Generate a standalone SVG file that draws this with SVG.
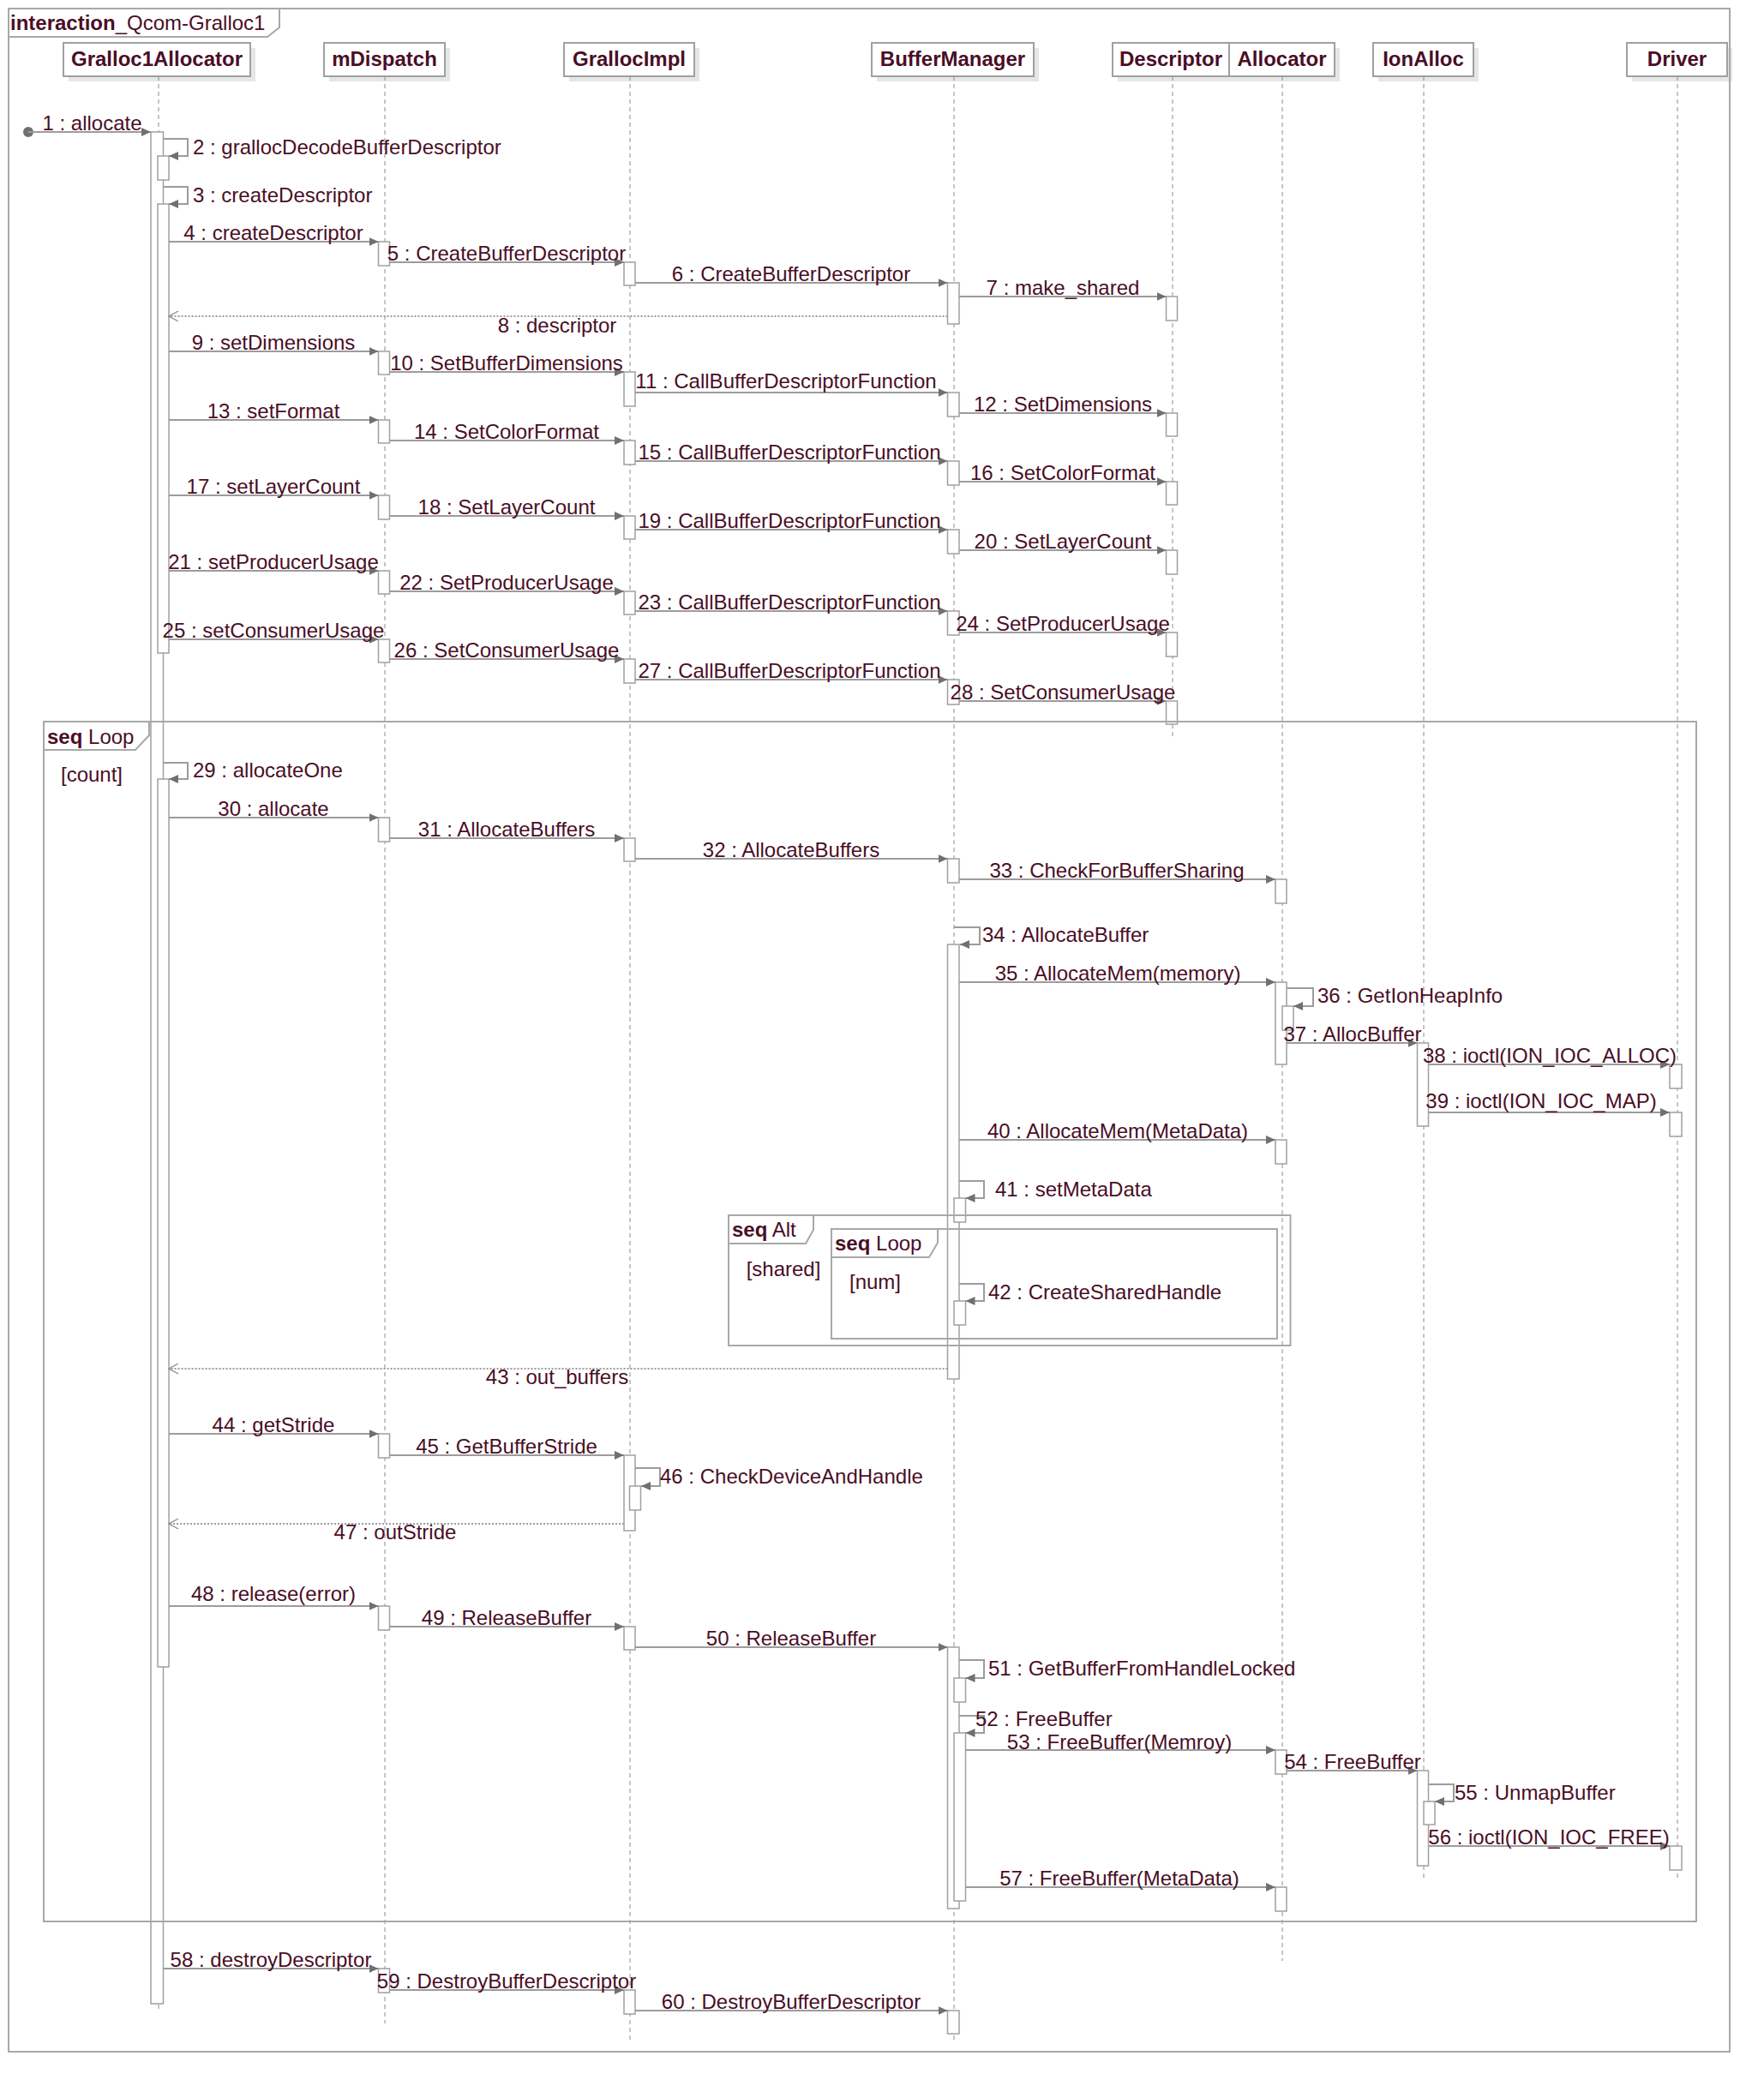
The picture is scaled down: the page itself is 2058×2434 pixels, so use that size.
<svg xmlns="http://www.w3.org/2000/svg" width="2058" height="2434" viewBox="0 0 2058 2434">
<defs>
<style>
.bg{fill:#ffffff}
.box{fill:#ffffff;stroke:#a0a0a0;stroke-width:2}
.shadow{fill:#e6e6e6}
.name{font-family:"Liberation Sans",Arial,sans-serif;font-size:24px;font-weight:bold;fill:#4a0e26;text-anchor:middle}
.life{stroke:#8c8c8c;stroke-width:1;stroke-dasharray:5 4;fill:none}
.act{fill:#ffffff;stroke:#a0a0a0;stroke-width:1.5}
.msg{stroke:#9c9c9c;stroke-width:2;fill:none;marker-end:url(#arr)}
.ret{stroke:#9c9c9c;stroke-width:2;stroke-dasharray:2 2;fill:none;marker-end:url(#open)}
.lbl{font-family:"Liberation Sans",Arial,sans-serif;font-size:24px;fill:#4a0e26}
.c{text-anchor:middle}
.b{font-weight:bold}
.frame{fill:none;stroke:#a8a8a8;stroke-width:2}
.tab{fill:#ffffff;stroke:#a8a8a8;stroke-width:2}
</style>
<marker id="arr" markerUnits="userSpaceOnUse" markerWidth="12" markerHeight="10" refX="11" refY="5" orient="auto">
<path d="M0,0 L11,5 L0,10 Z" fill="#707070"/>
</marker>
<marker id="open" markerUnits="userSpaceOnUse" markerWidth="12" markerHeight="14" refX="11" refY="7" orient="auto">
<path d="M0,1 L11,7 L0,13" fill="none" stroke="#8c8c8c" stroke-width="1.2"/>
</marker>
</defs>
<rect class="bg" x="0" y="0" width="2058" height="2434"/>

<g id="participant-Gralloc1Allocator">
<rect class="shadow" x="80" y="56" width="218" height="39"/>
<rect class="box" x="74" y="50" width="218" height="39"/>
<text class="name" x="183" y="77">Gralloc1Allocator</text>
<line class="life" x1="185" y1="89" x2="185" y2="2348"/>
<rect class="act" x="176" y="154" width="14.5" height="2184"/>
<rect class="act" x="184" y="182" width="13" height="28"/>
<rect class="act" x="184" y="238" width="13" height="524"/>
<rect class="act" x="184" y="909" width="13" height="1036"/>
</g>

<g id="participant-mDispatch">
<rect class="shadow" x="384" y="56" width="141" height="39"/>
<rect class="box" x="378" y="50" width="141" height="39"/>
<text class="name" x="448.5" y="77">mDispatch</text>
<line class="life" x1="449" y1="89" x2="449" y2="2361"/>
<rect class="act" x="441.5" y="282" width="13" height="28"/>
<rect class="act" x="441.5" y="410" width="13" height="27"/>
<rect class="act" x="441.5" y="490" width="13" height="27"/>
<rect class="act" x="441.5" y="578" width="13" height="28"/>
<rect class="act" x="441.5" y="666" width="13" height="27"/>
<rect class="act" x="441.5" y="746" width="13" height="27"/>
<rect class="act" x="441.5" y="954" width="13" height="28"/>
<rect class="act" x="441.5" y="1673" width="13" height="28"/>
<rect class="act" x="441.5" y="1874" width="13" height="28"/>
<rect class="act" x="441.5" y="2297" width="13" height="28"/>
</g>

<g id="participant-GrallocImpl">
<rect class="shadow" x="664" y="56" width="152" height="39"/>
<rect class="box" x="658" y="50" width="152" height="39"/>
<text class="name" x="734" y="77">GrallocImpl</text>
<line class="life" x1="735" y1="89" x2="735" y2="2384"/>
<rect class="act" x="728" y="306" width="13" height="27"/>
<rect class="act" x="728" y="434" width="13" height="40"/>
<rect class="act" x="728" y="514" width="13" height="28"/>
<rect class="act" x="728" y="602" width="13" height="27"/>
<rect class="act" x="728" y="690" width="13" height="27"/>
<rect class="act" x="728" y="769" width="13" height="28"/>
<rect class="act" x="728" y="978" width="13" height="27"/>
<rect class="act" x="728" y="1698" width="13" height="88"/>
<rect class="act" x="734.5" y="1734" width="13" height="28"/>
<rect class="act" x="728" y="1898" width="13" height="27"/>
<rect class="act" x="728" y="2322" width="13" height="28"/>
</g>

<g id="participant-BufferManager">
<rect class="shadow" x="1023" y="56" width="189" height="39"/>
<rect class="box" x="1017" y="50" width="189" height="39"/>
<text class="name" x="1111.5" y="77">BufferManager</text>
<line class="life" x1="1113" y1="89" x2="1113" y2="2384"/>
<rect class="act" x="1105.5" y="330" width="13.5" height="48"/>
<rect class="act" x="1105.5" y="458" width="13.5" height="28"/>
<rect class="act" x="1105.5" y="538" width="13.5" height="28"/>
<rect class="act" x="1105.5" y="618" width="13.5" height="28"/>
<rect class="act" x="1105.5" y="713" width="13.5" height="28"/>
<rect class="act" x="1105.5" y="793" width="13.5" height="29"/>
<rect class="act" x="1105.5" y="1002" width="13.5" height="28"/>
<rect class="act" x="1105.5" y="1102" width="13.5" height="507"/>
<rect class="act" x="1113" y="1398" width="13.5" height="28"/>
<rect class="act" x="1113" y="1518" width="13.5" height="28"/>
<rect class="act" x="1105.5" y="1922" width="13.5" height="305"/>
<rect class="act" x="1113" y="1958" width="13.5" height="28"/>
<rect class="act" x="1113" y="2022" width="13.5" height="196"/>
<rect class="act" x="1105.5" y="2346" width="13.5" height="27"/>
</g>

<g id="participant-Descriptor">
<rect class="shadow" x="1304" y="56" width="136" height="39"/>
<rect class="box" x="1298" y="50" width="136" height="39"/>
<text class="name" x="1366" y="77">Descriptor</text>
<line class="life" x1="1368" y1="89" x2="1368" y2="860"/>
<rect class="act" x="1360.5" y="346" width="13" height="28"/>
<rect class="act" x="1360.5" y="482" width="13" height="27"/>
<rect class="act" x="1360.5" y="562" width="13" height="27"/>
<rect class="act" x="1360.5" y="642" width="13" height="28"/>
<rect class="act" x="1360.5" y="738" width="13" height="28"/>
<rect class="act" x="1360.5" y="818" width="13" height="27"/>
</g>

<g id="participant-Allocator">
<rect class="shadow" x="1440" y="56" width="123" height="39"/>
<rect class="box" x="1434" y="50" width="123" height="39"/>
<text class="name" x="1495.5" y="77">Allocator</text>
<line class="life" x1="1496" y1="89" x2="1496" y2="2288"/>
<rect class="act" x="1488" y="1026" width="13" height="28"/>
<rect class="act" x="1488" y="1146" width="13" height="96"/>
<rect class="act" x="1496" y="1174" width="13" height="28"/>
<rect class="act" x="1488" y="1330" width="13" height="28"/>
<rect class="act" x="1488" y="2042" width="13" height="28"/>
<rect class="act" x="1488" y="2202" width="13" height="28"/>
</g>

<g id="participant-IonAlloc">
<rect class="shadow" x="1608" y="56" width="117" height="39"/>
<rect class="box" x="1602" y="50" width="117" height="39"/>
<text class="name" x="1660.5" y="77">IonAlloc</text>
<line class="life" x1="1661" y1="89" x2="1661" y2="2193"/>
<rect class="act" x="1653.5" y="1217" width="13" height="97"/>
<rect class="act" x="1653.5" y="2066" width="13" height="111"/>
<rect class="act" x="1661" y="2102" width="13" height="27"/>
</g>

<g id="participant-Driver">
<rect class="shadow" x="1904" y="56" width="117" height="39"/>
<rect class="box" x="1898" y="50" width="117" height="39"/>
<text class="name" x="1956.5" y="77">Driver</text>
<line class="life" x1="1957" y1="89" x2="1957" y2="2193"/>
<rect class="act" x="1948" y="1242" width="14" height="28"/>
<rect class="act" x="1948" y="1298" width="14" height="28"/>
<rect class="act" x="1948" y="2154" width="14" height="28"/>
</g>

<g id="frames">
<rect class="frame" x="10" y="10" width="2008" height="2384"/>
<path class="tab" d="M10,10 L326,10 L326,32 L312,43 L10,43 Z"/>
<text class="lbl" x="12" y="35"><tspan class="b">interaction</tspan>_Qcom-Gralloc1</text>

<rect class="frame" x="51" y="842" width="1928" height="1400"/>
<path class="tab" d="M51,842 L174,842 L174,858 L158,875 L51,875 Z"/>
<text class="lbl" x="55" y="868"><tspan class="b">seq</tspan> Loop</text>
<text class="lbl c" x="107" y="912">[count]</text>

<rect class="frame" x="850" y="1418" width="655.5" height="152"/>
<path class="tab" d="M850,1418 L949,1418 L949,1435 L940,1451 L850,1451 Z"/>
<text class="lbl" x="854" y="1443"><tspan class="b">seq</tspan> Alt</text>
<text class="lbl c" x="914" y="1489">[shared]</text>

<rect class="frame" x="970" y="1434" width="520" height="128"/>
<path class="tab" d="M970,1434 L1094,1434 L1094,1450 L1084,1467 L970,1467 Z"/>
<text class="lbl" x="974" y="1459"><tspan class="b">seq</tspan> Loop</text>
<text class="lbl c" x="1021" y="1504">[num]</text>
</g>

<g id="connectors">
<circle cx="33" cy="154" r="6" fill="#707070"/>
<line class="msg" x1="33" y1="154" x2="176" y2="154"/>
<text class="lbl c" x="107.5" y="152">1 : allocate</text>

<polyline class="msg" points="190.5,162 219,162 219,182 197,182"/>
<text class="lbl" x="225" y="180">2 : grallocDecodeBufferDescriptor</text>
<polyline class="msg" points="190.5,218 219,218 219,238 197,238"/>
<text class="lbl" x="225" y="236">3 : createDescriptor</text>

<line class="msg" x1="197" y1="282" x2="441.5" y2="282"/>
<text class="lbl c" x="319" y="280">4 : createDescriptor</text>
<line class="msg" x1="454.5" y1="306" x2="728" y2="306"/>
<text class="lbl c" x="591" y="304">5 : CreateBufferDescriptor</text>
<line class="msg" x1="741" y1="330" x2="1105.5" y2="330"/>
<text class="lbl c" x="923" y="328">6 : CreateBufferDescriptor</text>
<line class="msg" x1="1119" y1="346" x2="1360.5" y2="346"/>
<text class="lbl c" x="1240" y="344">7 : make_shared</text>
<line class="ret" x1="1105.5" y1="369" x2="197" y2="369"/>
<text class="lbl c" x="650" y="388">8 : descriptor</text>

<line class="msg" x1="197" y1="410" x2="441.5" y2="410"/>
<text class="lbl c" x="319" y="408">9 : setDimensions</text>
<line class="msg" x1="454.5" y1="434" x2="728" y2="434"/>
<text class="lbl c" x="591" y="432">10 : SetBufferDimensions</text>
<line class="msg" x1="741" y1="458" x2="1105.5" y2="458"/>
<text class="lbl c" x="917" y="453">11 : CallBufferDescriptorFunction</text>
<line class="msg" x1="1119" y1="482" x2="1360.5" y2="482"/>
<text class="lbl c" x="1240" y="480">12 : SetDimensions</text>

<line class="msg" x1="197" y1="490" x2="441.5" y2="490"/>
<text class="lbl c" x="319" y="488">13 : setFormat</text>
<line class="msg" x1="454.5" y1="514" x2="728" y2="514"/>
<text class="lbl c" x="591" y="512">14 : SetColorFormat</text>
<line class="msg" x1="741" y1="538" x2="1105.5" y2="538"/>
<text class="lbl c" x="921" y="536">15 : CallBufferDescriptorFunction</text>
<line class="msg" x1="1119" y1="562" x2="1360.5" y2="562"/>
<text class="lbl c" x="1240" y="560">16 : SetColorFormat</text>

<line class="msg" x1="197" y1="578" x2="441.5" y2="578"/>
<text class="lbl c" x="319" y="576">17 : setLayerCount</text>
<line class="msg" x1="454.5" y1="602" x2="728" y2="602"/>
<text class="lbl c" x="591" y="600">18 : SetLayerCount</text>
<line class="msg" x1="741" y1="618" x2="1105.5" y2="618"/>
<text class="lbl c" x="921" y="616">19 : CallBufferDescriptorFunction</text>
<line class="msg" x1="1119" y1="642" x2="1360.5" y2="642"/>
<text class="lbl c" x="1240" y="640">20 : SetLayerCount</text>

<line class="msg" x1="197" y1="666" x2="441.5" y2="666"/>
<text class="lbl c" x="319" y="664">21 : setProducerUsage</text>
<line class="msg" x1="454.5" y1="690" x2="728" y2="690"/>
<text class="lbl c" x="591" y="688">22 : SetProducerUsage</text>
<line class="msg" x1="741" y1="713" x2="1105.5" y2="713"/>
<text class="lbl c" x="921" y="711">23 : CallBufferDescriptorFunction</text>
<line class="msg" x1="1119" y1="738" x2="1360.5" y2="738"/>
<text class="lbl c" x="1240" y="736">24 : SetProducerUsage</text>

<line class="msg" x1="197" y1="746" x2="441.5" y2="746"/>
<text class="lbl c" x="319" y="744">25 : setConsumerUsage</text>
<line class="msg" x1="454.5" y1="769" x2="728" y2="769"/>
<text class="lbl c" x="591" y="767">26 : SetConsumerUsage</text>
<line class="msg" x1="741" y1="793" x2="1105.5" y2="793"/>
<text class="lbl c" x="921" y="791">27 : CallBufferDescriptorFunction</text>
<line class="msg" x1="1119" y1="818" x2="1360.5" y2="818"/>
<text class="lbl c" x="1240" y="816">28 : SetConsumerUsage</text>

<polyline class="msg" points="190.5,890 219,890 219,909 197,909"/>
<text class="lbl" x="225" y="907">29 : allocateOne</text>
<line class="msg" x1="197" y1="954" x2="441.5" y2="954"/>
<text class="lbl c" x="319" y="952">30 : allocate</text>
<line class="msg" x1="454.5" y1="978" x2="728" y2="978"/>
<text class="lbl c" x="591" y="976">31 : AllocateBuffers</text>
<line class="msg" x1="741" y1="1002" x2="1105.5" y2="1002"/>
<text class="lbl c" x="923" y="1000">32 : AllocateBuffers</text>
<line class="msg" x1="1119" y1="1026" x2="1488" y2="1026"/>
<text class="lbl c" x="1303" y="1024">33 : CheckForBufferSharing</text>
<polyline class="msg" points="1113,1082 1143,1082 1143,1102 1120,1102"/>
<text class="lbl" x="1146" y="1099">34 : AllocateBuffer</text>
<line class="msg" x1="1119" y1="1146" x2="1488" y2="1146"/>
<text class="lbl c" x="1304" y="1144">35 : AllocateMem(memory)</text>
<polyline class="msg" points="1501,1153 1532,1153 1532,1174 1509,1174"/>
<text class="lbl" x="1537" y="1170">36 : GetIonHeapInfo</text>
<line class="msg" x1="1501" y1="1217" x2="1653.5" y2="1217"/>
<text class="lbl c" x="1578" y="1215">37 : AllocBuffer</text>
<line class="msg" x1="1666.5" y1="1242" x2="1948" y2="1242"/>
<text class="lbl c" x="1808" y="1240">38 : ioctl(ION_IOC_ALLOC)</text>
<line class="msg" x1="1666.5" y1="1298" x2="1948" y2="1298"/>
<text class="lbl c" x="1798" y="1293">39 : ioctl(ION_IOC_MAP)</text>
<line class="msg" x1="1119" y1="1330" x2="1488" y2="1330"/>
<text class="lbl c" x="1304" y="1328">40 : AllocateMem(MetaData)</text>
<polyline class="msg" points="1119,1378 1148,1378 1148,1398 1126.5,1398"/>
<text class="lbl" x="1161" y="1396">41 : setMetaData</text>
<polyline class="msg" points="1119,1498 1148,1498 1148,1518 1126.5,1518"/>
<text class="lbl" x="1153" y="1516">42 : CreateSharedHandle</text>
<line class="ret" x1="1105.5" y1="1597" x2="197" y2="1597"/>
<text class="lbl c" x="650" y="1615">43 : out_buffers</text>

<line class="msg" x1="197" y1="1673" x2="441.5" y2="1673"/>
<text class="lbl c" x="319" y="1671">44 : getStride</text>
<line class="msg" x1="454.5" y1="1698" x2="728" y2="1698"/>
<text class="lbl c" x="591" y="1696">45 : GetBufferStride</text>
<polyline class="msg" points="741,1713 770,1713 770,1734 748,1734"/>
<text class="lbl" x="770" y="1731">46 : CheckDeviceAndHandle</text>
<line class="ret" x1="728" y1="1778" x2="197" y2="1778"/>
<text class="lbl c" x="461" y="1796">47 : outStride</text>

<line class="msg" x1="197" y1="1874" x2="441.5" y2="1874"/>
<text class="lbl c" x="319" y="1868">48 : release(error)</text>
<line class="msg" x1="454.5" y1="1898" x2="728" y2="1898"/>
<text class="lbl c" x="591" y="1896">49 : ReleaseBuffer</text>
<line class="msg" x1="741" y1="1922" x2="1105.5" y2="1922"/>
<text class="lbl c" x="923" y="1920">50 : ReleaseBuffer</text>
<polyline class="msg" points="1119,1937 1148,1937 1148,1958 1126.5,1958"/>
<text class="lbl" x="1153" y="1955">51 : GetBufferFromHandleLocked</text>
<polyline class="msg" points="1119,2002 1148,2002 1148,2022 1126.5,2022"/>
<text class="lbl" x="1138" y="2014">52 : FreeBuffer</text>
<line class="msg" x1="1126.5" y1="2042" x2="1488" y2="2042"/>
<text class="lbl c" x="1306" y="2041">53 : FreeBuffer(Memroy)</text>
<line class="msg" x1="1501" y1="2066" x2="1653.5" y2="2066"/>
<text class="lbl c" x="1578" y="2064">54 : FreeBuffer</text>
<polyline class="msg" points="1666.5,2082 1696,2082 1696,2102 1674,2102"/>
<text class="lbl" x="1697" y="2100">55 : UnmapBuffer</text>
<line class="msg" x1="1666.5" y1="2154" x2="1948" y2="2154"/>
<text class="lbl c" x="1807" y="2152">56 : ioctl(ION_IOC_FREE)</text>
<line class="msg" x1="1126.5" y1="2202" x2="1488" y2="2202"/>
<text class="lbl c" x="1306" y="2200">57 : FreeBuffer(MetaData)</text>

<line class="msg" x1="190.5" y1="2297" x2="441.5" y2="2297"/>
<text class="lbl c" x="316" y="2295">58 : destroyDescriptor</text>
<line class="msg" x1="454.5" y1="2322" x2="728" y2="2322"/>
<text class="lbl c" x="591" y="2320">59 : DestroyBufferDescriptor</text>
<line class="msg" x1="741" y1="2346" x2="1105.5" y2="2346"/>
<text class="lbl c" x="923" y="2344">60 : DestroyBufferDescriptor</text>
</g>
</svg>
